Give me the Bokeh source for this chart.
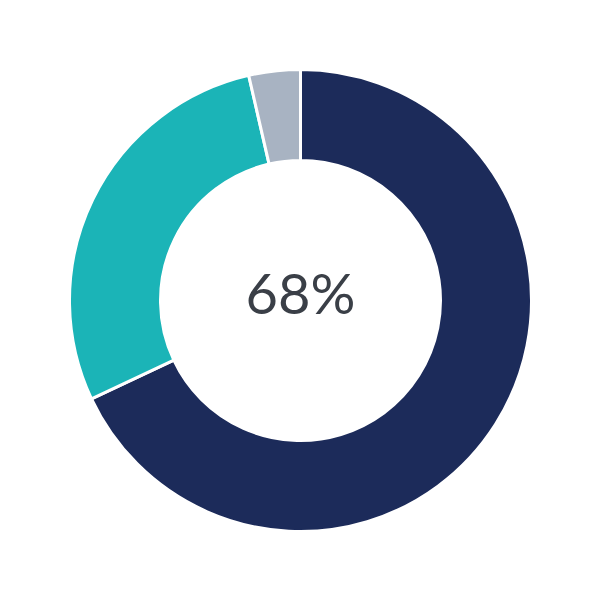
import math
from bokeh.plotting import figure
from bokeh.models import ColumnDataSource, Range1d
from bokeh.core.properties import value
from bokeh.embed import file_html
from bokeh.resources import INLINE

categories = ["A", "B", "C"]
shares = [68, 28.4, 3.6]
colors = ["#1c2b5a", "#1bb4b7", "#a8b3c2"]
center_label = "68%"

total = sum(shares)
starts, ends = [], []
acc = 0.0
for s in shares:
    a0 = math.pi / 2 - 2 * math.pi * acc / total
    acc += s
    a1 = math.pi / 2 - 2 * math.pi * acc / total
    starts.append(a0)
    ends.append(a1)

src = ColumnDataSource(dict(cat=categories, share=shares, color=colors,
                            start=starts, end=ends, x=[0]*3, y=[0]*3))

W = 584
p = figure(width=W, height=W, output_backend="svg", toolbar_location=None,
           x_range=Range1d(-300, W - 300), y_range=Range1d(-(W - 300), 300),
           min_border=0)
p.axis.visible = False
p.grid.visible = False
p.outline_line_color = None
p.background_fill_color = "white"
p.border_fill_color = "white"

p.annular_wedge(x="x", y="y", inner_radius=140, outer_radius=231,
                start_angle="start", end_angle="end", direction="clock",
                fill_color="color", line_color="white", line_width=3, source=src)

p.text(x=[0], y=[8], text=[center_label], text_align="center",
       text_baseline="middle", text_font=value("Lato"),
       text_font_size="56px", text_color="#3a3f47", text_font_style="normal")

open("out.html", "w").write(file_html(p, INLINE))
